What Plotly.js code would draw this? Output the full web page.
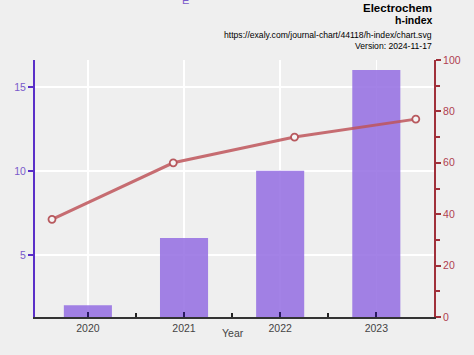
<!DOCTYPE html>
<html><head><meta charset="utf-8">
<script src="https://cdn.plot.ly/plotly-3.0.1.min.js"></script>
<style>html,body{margin:0;padding:0;background:#efefef;}</style>
</head><body>
<div id="chart" style="width:474px;height:355px;"></div>
<script>
const years = [2020, 2021, 2022, 2023];
const barValues = [2, 6, 10, 16];
const lineValues = [38, 60, 70, 77];
const yearTicks = ['2020', '2021', '2022', '2023'];

const plotTop = 60, plotBottom = 317, plotLeft = 35, plotRight = 434;
function py(p){ return (plotBottom - p) / (plotBottom - plotTop); }
function px(p){ return (p - plotLeft) / (plotRight - plotLeft); }

const traces = [
  {type:'bar', x: years, y: barValues, width: 0.5,
   marker:{color:'rgba(147,108,226,0.85)'}, xaxis:'x', yaxis:'y', hoverinfo:'skip'},
  {type:'scatter', mode:'lines+markers', x: years, y: lineValues, xaxis:'x2', yaxis:'y2',
   line:{color:'rgba(190,85,90,0.85)', width:3},
   marker:{symbol:'circle', size:7, color:'#f4f4f4', line:{color:'rgba(180,80,85,0.95)', width:1.8}}}
];

const layout = {
  width:474, height:355, showlegend:false,
  paper_bgcolor:'#efefef', plot_bgcolor:'#efefef',
  margin:{l:plotLeft, r:474-plotRight, t:plotTop, b:355-plotBottom, pad:0},
  font:{family:'Liberation Sans, Arial, sans-serif', size:10, color:'#444'},
  xaxis:{type:'linear', range:[2019.45, 2023.6], tickvals:years, ticktext:yearTicks,
    ticks:'inside', ticklen:5, tickwidth:2, tickcolor:'#2a1a60',
    minor:{tickvals:[2020.5, 2021.5, 2022.5], ticks:'inside', ticklen:4, tickwidth:2, tickcolor:'#222', showgrid:false},
    showgrid:true, gridcolor:'#ffffff', gridwidth:1.5,
    showline:true, linecolor:'#333', linewidth:2, zeroline:false,
    tickfont:{size:10.5, color:'#444'}},
  xaxis2:{overlaying:'x', type:'linear', range:[2019.86, 2023.15], visible:false, showgrid:false, zeroline:false},
  yaxis:{range:[1.3, 16.6], tickvals:[5,10,15], ticks:'outside', ticklen:5, tickwidth:2,
    tickcolor:'#5a2fc8', showline:true, linecolor:'#5a2fc8', linewidth:2,
    showgrid:true, gridcolor:'#ffffff', gridwidth:1.5, zeroline:false,
    tickfont:{size:10.5, color:'#7a5acb'}},
  yaxis2:{overlaying:'y', side:'right', range:[0,100], dtick:20, tick0:0,
    ticks:'outside', ticklen:5, tickwidth:2, tickcolor:'#a0303a',
    minor:{dtick:10, ticks:'outside', ticklen:4, tickwidth:2, tickcolor:'#a0303a', showgrid:false},
    showline:true, linecolor:'#a0303a', linewidth:2, showgrid:false, zeroline:false,
    tickfont:{size:10.5, color:'#b04050'}},
  annotations:[
    {text:'Year', xref:'paper', yref:'paper', x:px(233), y:py(333), showarrow:false,
     xanchor:'center', yanchor:'middle', font:{size:10.5, color:'#444'}},
    {text:'<b>Electrochem</b>', xref:'paper', yref:'paper', x:px(434), y:py(8), showarrow:false,
     xanchor:'right', yanchor:'middle', font:{size:11.5, color:'#000'}},
    {text:'<b>h-index</b>', xref:'paper', yref:'paper', x:px(434), y:py(20), showarrow:false,
     xanchor:'right', yanchor:'middle', font:{size:10.5, color:'#000'}},
    {text:'https://exaly.com/journal-chart/44118/h-index/chart.svg', xref:'paper', yref:'paper', x:px(434), y:py(35), showarrow:false,
     xanchor:'right', yanchor:'middle', font:{size:8.6, color:'#000'}},
    {text:'Version: 2024-11-17', xref:'paper', yref:'paper', x:px(434), y:py(46), showarrow:false,
     xanchor:'right', yanchor:'middle', font:{size:8.6, color:'#000'}},
    {text:'E', xref:'paper', yref:'paper', x:px(185), y:py(0), showarrow:false,
     xanchor:'center', yanchor:'middle', font:{size:11, color:'#7a5acb'}}
  ]
};
Plotly.newPlot('chart', traces, layout, {displayModeBar:false, staticPlot:true});
</script>
</body></html>
